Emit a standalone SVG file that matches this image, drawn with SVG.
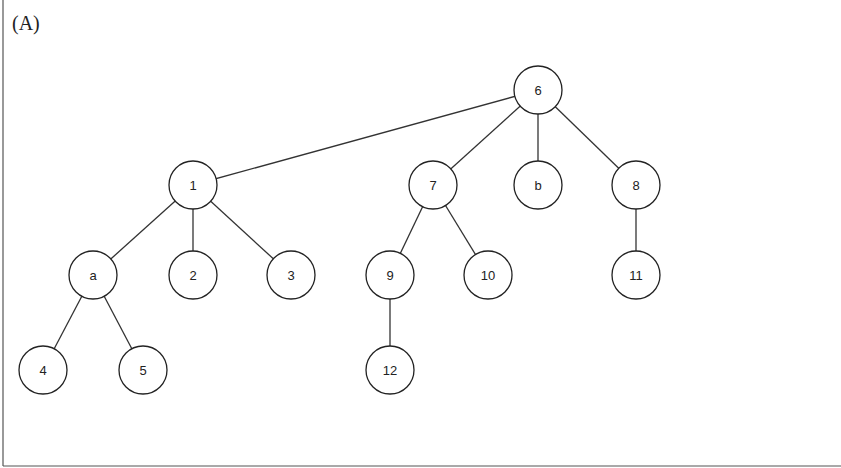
<svg xmlns="http://www.w3.org/2000/svg" width="841" height="468" viewBox="0 0 841 468">
<style>
.n circle{fill:#fff;stroke:#222;stroke-width:1.3}
.n text{font-family:"Liberation Sans",Arial,sans-serif;font-size:13px;fill:#222;text-anchor:middle;dominant-baseline:central}
.e line{stroke:#333;stroke-width:1.3}
</style>
<rect width="841" height="468" fill="#fff"/>
<g id="frame" stroke="#555" stroke-width="1.2"><line x1="3" y1="0" x2="3" y2="466"/><line x1="3" y1="466" x2="841" y2="466"/></g>
<text x="12" y="30" font-family="Liberation Serif,serif" font-size="20" fill="#222">(A)</text>
<g class="e" id="connectors">
<line x1="538" y1="90" x2="193" y2="185"/>
<line x1="538" y1="90" x2="433" y2="185"/>
<line x1="538" y1="90" x2="538" y2="185"/>
<line x1="538" y1="90" x2="636" y2="185"/>
<line x1="193" y1="185" x2="93" y2="275"/>
<line x1="193" y1="185" x2="193" y2="275"/>
<line x1="193" y1="185" x2="291" y2="275"/>
<line x1="433" y1="185" x2="390" y2="275"/>
<line x1="433" y1="185" x2="488" y2="275"/>
<line x1="636" y1="185" x2="636" y2="275"/>
<line x1="93" y1="275" x2="43" y2="370"/>
<line x1="93" y1="275" x2="143" y2="370"/>
<line x1="390" y1="275" x2="390" y2="370"/>
</g>
<g class="n" id="n6"><circle cx="538" cy="90" r="24"/><text x="538" y="90">6</text></g>
<g class="n" id="n1"><circle cx="193" cy="185" r="24"/><text x="193" y="185">1</text></g>
<g class="n" id="n7"><circle cx="433" cy="185" r="24"/><text x="433" y="185">7</text></g>
<g class="n" id="nb"><circle cx="538" cy="185" r="24"/><text x="538" y="185">b</text></g>
<g class="n" id="n8"><circle cx="636" cy="185" r="24"/><text x="636" y="185">8</text></g>
<g class="n" id="na"><circle cx="93" cy="275" r="24"/><text x="93" y="275">a</text></g>
<g class="n" id="n2"><circle cx="193" cy="275" r="24"/><text x="193" y="275">2</text></g>
<g class="n" id="n3"><circle cx="291" cy="275" r="24"/><text x="291" y="275">3</text></g>
<g class="n" id="n9"><circle cx="390" cy="275" r="24"/><text x="390" y="275">9</text></g>
<g class="n" id="n10"><circle cx="488" cy="275" r="24"/><text x="488" y="275">10</text></g>
<g class="n" id="n11"><circle cx="636" cy="275" r="24"/><text x="636" y="275">11</text></g>
<g class="n" id="n4"><circle cx="43" cy="370" r="24"/><text x="43" y="370">4</text></g>
<g class="n" id="n5"><circle cx="143" cy="370" r="24"/><text x="143" y="370">5</text></g>
<g class="n" id="n12"><circle cx="390" cy="370" r="24"/><text x="390" y="370">12</text></g>
</svg>
